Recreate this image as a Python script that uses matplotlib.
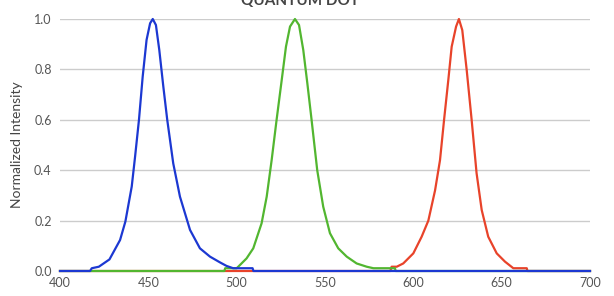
import matplotlib
matplotlib.use("Agg")
import matplotlib.pyplot as plt

# emission spectra (wavelength nm, normalized intensity)
blue_nm  = [400, 417, 418, 422, 428, 434, 437, 440.6, 442.5, 444.7, 446.8, 449, 451, 452.5,
            454.3, 456.2, 458.5, 460.7, 464.1, 467.9, 473.6, 479.2, 484.9, 490.6, 494.3,
            497.2, 498, 509, 509.5, 700]
blue_int = [0, 0, 0.011, 0.017, 0.046, 0.123, 0.196, 0.335, 0.454, 0.60, 0.771, 0.917, 0.983, 1.0,
            0.976, 0.877, 0.731, 0.60, 0.427, 0.295, 0.163, 0.09, 0.057, 0.034, 0.02,
            0.013, 0.011, 0.011, 0, 0]

green_nm  = [400, 493, 493.5, 500, 500.9, 505.6, 509.4, 514.1, 517, 519.8, 522.6, 525.5, 527.9,
             530.2, 533, 535.3, 537.7, 540, 542.4, 545.6, 549, 552.8, 557.5, 562.3, 567.9,
             573.6, 577.4, 589.6, 590, 700]
green_int = [0, 0, 0.011, 0.011, 0.017, 0.05, 0.09, 0.189, 0.295, 0.44, 0.60, 0.758, 0.89,
             0.97, 1.0, 0.976, 0.877, 0.745, 0.60, 0.40, 0.255, 0.15, 0.09, 0.057, 0.03,
             0.017, 0.011, 0.011, 0, 0]

red_nm  = [400, 587, 587.7, 590.6, 594.3, 600, 604.7, 608.5, 612.3, 615.1, 617.4, 619.8, 621.7,
           624.2, 625.8, 627.7, 630.2, 633, 635.8, 638.7, 642.4, 647.2, 651.9, 656.6, 664.2,
           664.6, 700]
red_int = [0, 0, 0.017, 0.017, 0.03, 0.07, 0.136, 0.20, 0.32, 0.44, 0.60, 0.758, 0.89,
           0.97, 1.0, 0.956, 0.798, 0.60, 0.388, 0.242, 0.136, 0.07, 0.037, 0.011, 0.011,
           0, 0]

x_ticks = [400, 450, 500, 550, 600, 650, 700]
y_ticks = [0.0, 0.2, 0.4, 0.6, 0.8, 1.0]

plt.rcParams["font.family"] = ["Lato", "DejaVu Sans"]

fig = plt.figure(figsize=(6.14, 2.96), dpi=100)
ax = fig.add_axes([60/614, 1 - 271/296, 530/614, 252/296])

ax.plot(red_nm, red_int, color="#e8432a", lw=1.6)
ax.plot(green_nm, green_int, color="#52b630", lw=1.6)
ax.plot(blue_nm, blue_int, color="#1c38d2", lw=1.6)

ax.set_xlim(400, 700)
ax.set_ylim(0, 1.0)
ax.set_xticks(x_ticks)
ax.set_yticks(y_ticks)
ax.set_yticklabels([f"{v:.1f}" for v in y_ticks])
ax.tick_params(length=0, labelsize=9, colors="#555555", pad=6)
ax.tick_params(axis="x", pad=4)
for sp in ax.spines.values():
    sp.set_visible(False)
ax.grid(axis="y", color="#cccccc", lw=1)
ax.set_axisbelow(True)
for ln in ax.lines:
    ln.set_clip_on(False)

ax.set_ylabel("Normalized Intensity", fontsize=10, color="#444444", labelpad=8)

# title sits mostly above the visible canvas, as in the reference
fig.text(300/614, 1 - 5/296, "QUANTUM DOT", ha="center", va="baseline",
         fontsize=11, fontweight="bold", color="#444444")

fig.savefig("out.png", dpi=100)
